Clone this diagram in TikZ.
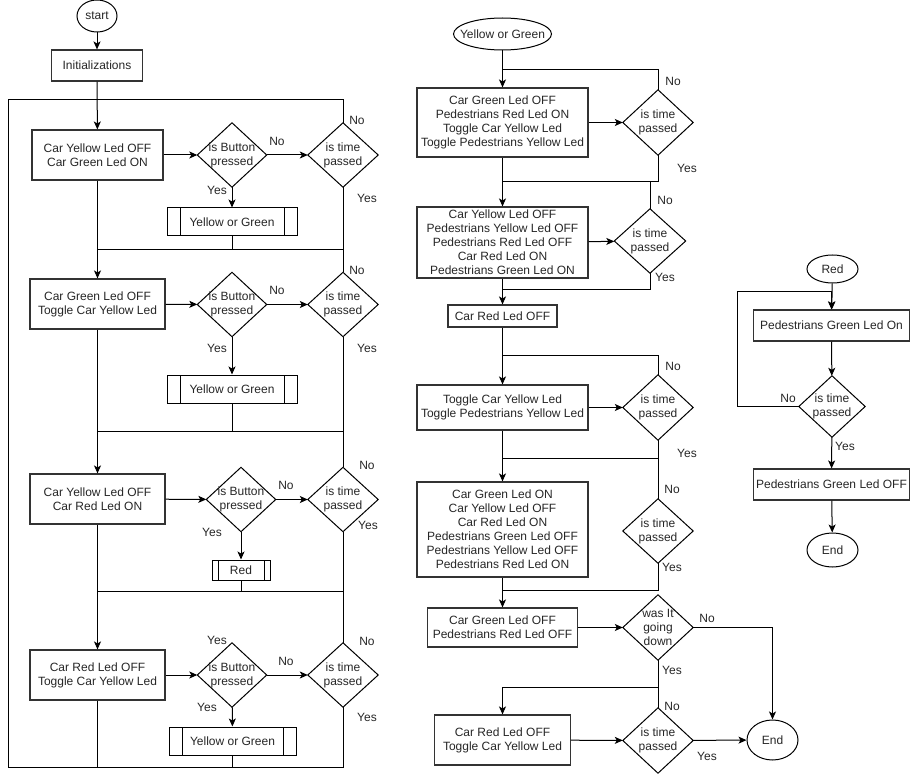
\documentclass[tikz,border=0pt]{standalone}
\usepackage{fontspec}
\setmainfont{Liberation Sans}
\usetikzlibrary{arrows.meta,shapes.geometric}

\tikzset{
  every node/.style={font=\fontsize{12}{14}\selectfont, text=black!85},
  wh/.style 2 args={minimum width=#1, minimum height=#2},
  proc/.style={draw=black!80, line width=1.1pt, align=center, inner sep=0pt},
  term/.style={draw, ellipse, line width=1pt, inner sep=0pt},
  decision/.style={inner sep=0pt, align=center},
  subproc/.style={draw, line width=1pt, inner sep=0pt, path picture={
      \draw ([xshift=#1]path picture bounding box.north west) -- ([xshift=#1]path picture bounding box.south west);
      \draw ([xshift=-#1]path picture bounding box.north east) -- ([xshift=-#1]path picture bounding box.south east);}},
  subproc/.default=13pt,
  lbl/.style={inner sep=0pt},
  flow/.style={line width=1pt},
  arr/.style={flow, -{Stealth[length=8pt,width=7pt,inset=2pt]}},
}

\begin{document}
\begin{tikzpicture}[x=1pt,y=-1pt]
    \useasboundingbox (0,0) rectangle (911,778);

    %Car loop
    \node[term, wh={40}{32}]     (start) at (97,16)      {start};
    \node[proc, wh={91}{31}]     (init)  at (97,65.5)    {Initializations};

    \node[proc, wh={131}{50}]    (ledA)  at (97.5,155)   {Car Yellow Led OFF\\Car Green Led ON};
    \node[decision, wh={69}{64}] (btnA)  at (232,155)    {is Button\\pressed};
    \node[decision, wh={70}{64}] (timeA) at (343,155)    {is time\\passed};
    \node[subproc, wh={130}{28}] (ygA)   at (232,222)    {Yellow or Green};

    \node[proc, wh={135}{50}]    (ledB)  at (97.5,304)   {Car Green Led OFF\\Toggle Car Yellow Led};
    \node[decision, wh={69}{64}] (btnB)  at (232,304.5)  {is Button\\pressed};
    \node[decision, wh={70}{64}] (timeB) at (343,304.5)  {is time\\passed};
    \node[subproc, wh={130}{28}] (ygB)   at (232,389)    {Yellow or Green};

    \node[proc, wh={135}{50}]    (ledC)  at (97.5,499)   {Car Yellow Led OFF\\Car Red Led ON};
    \node[decision, wh={69}{64}] (btnC)  at (241,499.5)  {is Button\\pressed};
    \node[decision, wh={70}{64}] (timeC) at (343,499.5)  {is time\\passed};
    \node[subproc=6pt, wh={58}{20}] (red) at (241,570)   {Red};

    \node[proc, wh={135}{50}]    (ledD)  at (97.5,675)   {Car Red Led OFF\\Toggle Car Yellow Led};
    \node[decision, wh={69}{64}] (btnD)  at (232,675)    {is Button\\pressed};
    \node[decision, wh={70}{64}] (timeD) at (343,675)    {is time\\passed};
    \node[subproc, wh={127}{28}] (ygC)   at (232.5,741)  {Yellow or Green};

    \coordinate (loopTL) at (8,100);
    \coordinate (botL)   at (8,767);
    \coordinate (mA)     at (343,250);
    \coordinate (mB)     at (343,431);
    \coordinate (mC)     at (343,591);

    \draw[arr] (start) -- (init);
    \draw[arr] (init) -- (ledA);
    \draw[arr] (ledA) -- (btnA);  \draw[arr] (btnA) -- (timeA);  \draw[arr] (btnA) -- (ygA);
    \draw[arr] (ledB) -- (btnB);  \draw[arr] (btnB) -- (timeB);  \draw[arr] (btnB) -- (ygB);
    \draw[arr] (ledC) -- (btnC);  \draw[arr] (btnC) -- (timeC);  \draw[arr] (btnC) -- (red);
    \draw[arr] (ledD) -- (btnD);  \draw[arr] (btnD) -- (timeD);  \draw[arr] (btnD) -- (ygC);
    \draw[arr] (ledA) -- (ledB);
    \draw[arr] (ledB) -- (ledC);
    \draw[arr] (ledC) -- (ledD);
    \draw[flow] (timeA) -- (timeB);
    \draw[flow] (timeB) -- (timeC);
    \draw[flow] (timeC) -- (timeD);
    \draw[flow] (ledA.south |- mA) -- (mA);  \draw[flow] (ygA) -- (ygA.south |- mA);
    \draw[flow] (ledB.south |- mB) -- (mB);  \draw[flow] (ygB) -- (ygB.south |- mB);
    \draw[flow] (ledC.south |- mC) -- (mC);  \draw[flow] (red) -- (red.south |- mC);
    \draw[flow] (timeD.south) |- (botL) -- (loopTL) -| (timeA.north);
    \draw[flow] (ledD) -- (ledD.south |- botL);
    \draw[flow] (ygC) -- (ygC.south |- botL);

    %Yellow or Green
    \node[term, wh={98}{32}, inner xsep=-10.5pt] (yg) at (502.5,34) {Yellow or Green};
    \node[proc, wh={171}{69}]    (ledE)   at (502.5,122.5) {Car Green Led OFF\\Pedestrians Red Led ON\\Toggle Car Yellow Led\\Toggle Pedestrians Yellow Led};
    \node[decision, wh={70}{65}] (timeE)  at (658,122.5)   {is time\\passed};
    \node[proc, wh={171}{71}]    (ledF)   at (502.5,242.5) {Car Yellow Led OFF\\Pedestrians Yellow Led OFF\\Pedestrians Red Led OFF\\Car Red Led ON\\Pedestrians Green Led ON};
    \node[decision, wh={71}{64}] (timeF)  at (650,241)     {is time\\passed};
    \node[proc, wh={109}{22}]    (redOff) at (502.5,316)   {Car Red Led OFF};
    \node[proc, wh={171}{45}]    (ledG)   at (502.5,407.5) {Toggle Car Yellow Led\\Toggle Pedestrians Yellow Led};
    \node[decision, wh={70}{65}] (timeG)  at (658,407.5)   {is time\\passed};
    \node[proc, wh={171}{95}]    (ledH)   at (502.5,529.5) {Car Green Led ON\\Car Yellow Led OFF\\Car Red Led ON\\Pedestrians Green Led OFF\\Pedestrians Yellow Led OFF\\Pedestrians Red Led ON};
    \node[decision, wh={70}{64}] (timeH)  at (658,531)     {is time\\passed};
    \node[proc, wh={150}{39}]    (ledI)   at (502.5,627.5) {Car Green Led OFF\\Pedestrians Red Led OFF};
    \node[decision, wh={70}{65}] (down)   at (658,627.5)   {was It\\going\\down};
    \node[proc, wh={136}{50}]    (ledJ)   at (502.5,740)   {Car Red Led OFF\\Toggle Car Yellow Led};
    \node[decision, wh={70}{65}] (timeI)  at (658,740.5)   {is time\\passed};
    \node[term, wh={51}{40}]     (endA)   at (772.5,740)   {End};

    \coordinate (jE) at (502.5,70);
    \coordinate (jF) at (502.5,182);
    \coordinate (jG) at (502.5,290);
    \coordinate (jH) at (502.5,355);
    \coordinate (jI) at (502.5,458);
    \coordinate (jJ) at (502.5,590);
    \coordinate (jK) at (502.5,687);

    \draw[arr] (yg) -- (ledE);
    \draw[flow] (timeE.north) |- (jE);
    \draw[arr] (ledE) -- (timeE);
    \draw[flow] (timeE.south) |- (jF);
    \draw[flow] (timeF.north) -- (timeF.north |- jF);
    \draw[arr] (ledE) -- (ledF);
    \draw[arr] (ledF) -- (timeF);
    \draw[flow] (timeF.south) |- (jG);
    \draw[arr] (ledF) -- (redOff);
    \draw[flow] (timeG.north) |- (jH);
    \draw[arr] (redOff) -- (ledG);
    \draw[arr] (ledG) -- (timeG);
    \draw[flow] (timeG.south) |- (jI);
    \draw[flow] (timeG) -- (timeH);
    \draw[arr] (ledG) -- (ledH);
    \draw[flow] (timeH.south) |- (jJ);
    \draw[arr] (ledH) -- (ledI);
    \draw[arr] (ledI) -- (down);
    \draw[arr] (down.east) -| (endA.north);
    \draw[arr] (down.south) |- (jK) -- (ledJ);
    \draw[flow] (down) -- (timeI);
    \draw[arr] (ledJ) -- (timeI);
    \draw[arr] (timeI) -- (endA);

    %Red
    \node[term, wh={51}{28}]     (redT)  at (832.5,269)   {Red};
    \node[proc, wh={156}{31}]    (ledK)  at (831.5,325.5) {Pedestrians Green Led On};
    \node[decision, wh={66}{61}] (timeJ) at (832,406.5)   {is time\\passed};
    \node[proc, wh={156}{31}]    (ledL)  at (831.5,484.5) {Pedestrians Green Led OFF};
    \node[term, wh={51}{34}]     (endB)  at (832.5,550)   {End};

    \coordinate (jL) at (737,292);
    \draw[arr] (redT) -- (ledK);
    \draw[arr] (ledK) -- (timeJ);
    \draw[arr] (timeJ.west) -| (jL) -| (ledK.north);
    \draw[arr] (timeJ) -- (ledL);
    \draw[arr] (ledL) -- (endB);

    %diamonds
    \foreach \d in {btnA,timeA,btnB,timeB,btnC,timeC,btnD,timeD,timeE,timeF,timeG,timeH,down,timeI,timeJ}
        \draw[flow] (\d.north) -- (\d.east) -- (\d.south) -- (\d.west) -- cycle;

    %Yes / No
    \foreach \t/\p [count=\i] in {No/{(277,141)},No/{(357,120)},Yes/{(217,190)},Yes/{(367,198)},
        No/{(277,290)},No/{(357,270)},Yes/{(217,348)},Yes/{(367,348)},
        No/{(286,485)},No/{(367,465)},Yes/{(212,532)},Yes/{(368,525)},
        Yes/{(217,640)},No/{(286,661)},No/{(367,641)},Yes/{(207,707)},Yes/{(367,717)},
        No/{(673,81)},Yes/{(687,168)},No/{(665,200)},Yes/{(665,277)},
        No/{(673,366)},Yes/{(687,453)},No/{(672,489)},Yes/{(672,567)},
        No/{(707,618)},Yes/{(672,670)},No/{(672,706)},Yes/{(707,756)},
        No/{(788,398)},Yes/{(845,446)}}
        \node[lbl] (lbl\i) at \p {\t};
\end{tikzpicture}
\end{document}
